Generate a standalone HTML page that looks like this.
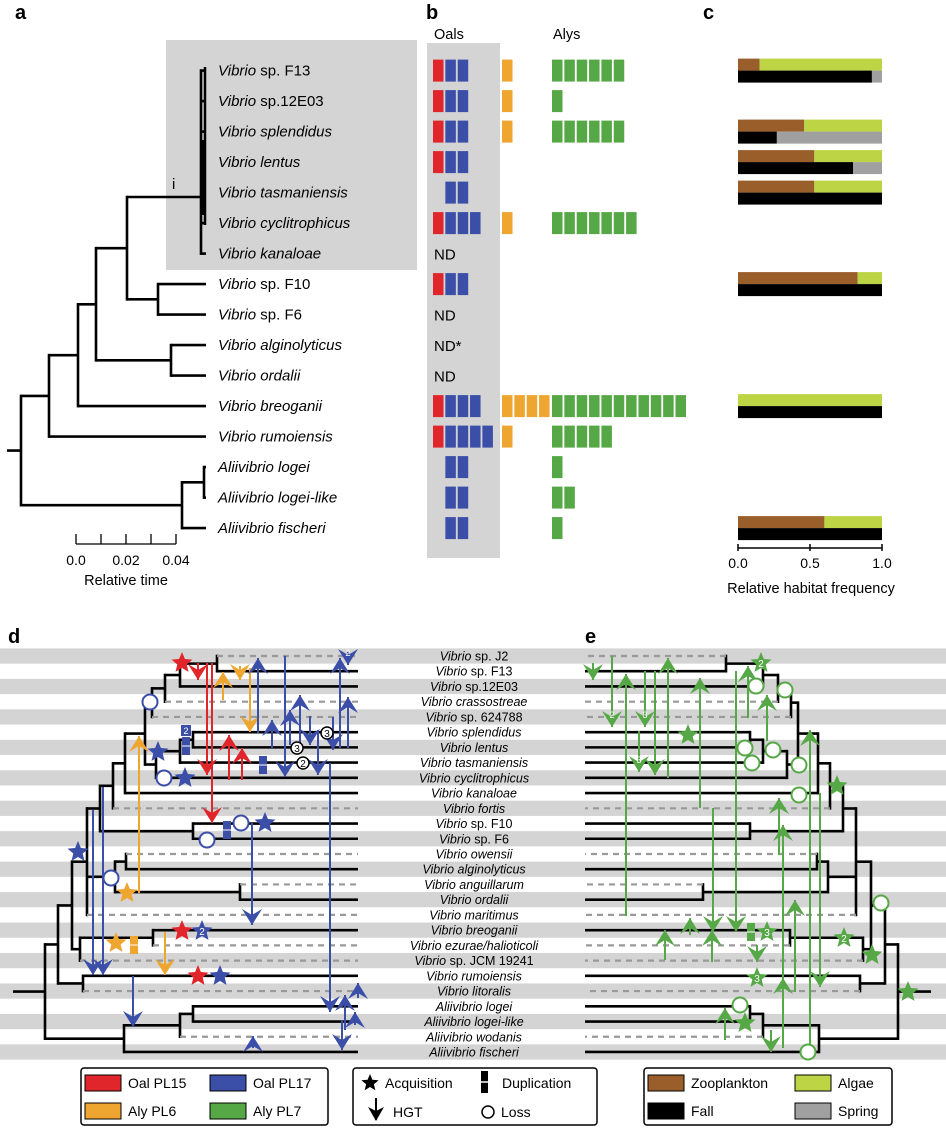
<!DOCTYPE html>
<html><head><meta charset="utf-8">
<style>
html,body{margin:0;padding:0;background:#fff;}
svg{display:block;font-family:"Liberation Sans",sans-serif;}
</style></head>
<body>
<svg id="fig" width="946" height="1136" viewBox="0 0 946 1136" xmlns="http://www.w3.org/2000/svg"></svg>
<script>
// ---------- Panel a/b/c data ----------
const speciesA = ["Vibrio sp. F13","Vibrio sp.12E03","Vibrio splendidus","Vibrio lentus","Vibrio tasmaniensis","Vibrio cyclitrophicus","Vibrio kanaloae","Vibrio sp. F10","Vibrio sp. F6","Vibrio alginolyticus","Vibrio ordalii","Vibrio breoganii","Vibrio rumoiensis","Aliivibrio logei","Aliivibrio logei-like","Aliivibrio fischeri"];
const oalRed    = [1,1,1,1,0,1,0,1,0,0,0,1,1,0,0,0];
const oalBlue   = [2,2,2,2,2,3,0,2,0,0,0,3,4,2,2,2];
const alyOrange = [1,1,1,0,0,1,0,0,0,0,0,4,1,0,0,0];
const alyGreen  = [6,1,6,0,0,7,0,0,0,0,0,11,5,1,2,1];
const ndText    = ["","","","","","","ND","","ND","ND*","ND","","","","",""];
const zooFrac   = [0.15,null,0.46,0.53,0.53,null,null,0.83,null,null,null,0,null,null,null,0.6];
const fallFrac  = [0.93,null,0.27,0.80,1,null,null,1,null,null,null,1,null,null,null,1];
const habTicks  = [0,0.5,1];
const habTickLabels = ["0.0","0.5","1.0"];
const timeTicks = [0,0.01,0.02,0.03,0.04];
const timeTickLabels = ["0.0","","0.02","","0.04"];
// ---------- Panel d/e ----------
const speciesD = ["Vibrio sp. J2","Vibrio sp. F13","Vibrio sp.12E03","Vibrio crassostreae","Vibrio sp. 624788","Vibrio splendidus","Vibrio lentus","Vibrio tasmaniensis","Vibrio cyclitrophicus","Vibrio kanaloae","Vibrio fortis","Vibrio sp. F10","Vibrio sp. F6","Vibrio owensii","Vibrio alginolyticus","Vibrio anguillarum","Vibrio ordalii","Vibrio maritimus","Vibrio breoganii","Vibrio ezurae/halioticoli","Vibrio sp. JCM 19241","Vibrio rumoiensis","Vibrio litoralis","Aliivibrio logei","Aliivibrio logei-like","Aliivibrio wodanis","Aliivibrio fischeri"];
const dashedD = [0,3,4,10,13,15,17,19,20,22,25];

const C = {red:"#e0262b",blue:"#3b4ea8",orange:"#eea631",green:"#56a846",brown:"#9a5e2b",lime:"#bdd445",spring:"#a0a0a0",bg:"#d4d4d4"};
const NS="http://www.w3.org/2000/svg";
const svg=document.getElementById('fig');
function el(tag,attrs,parent){const e=document.createElementNS(NS,tag);for(const k in attrs)e.setAttribute(k,attrs[k]);(parent||svg).appendChild(e);return e;}
function grp(name){const g=el('g',{});return g;}
function speciesText(s,x,y,size,anchor,parent,name){
  const t=el('text',{x:x,y:y,'font-size':size,'text-anchor':anchor||'start',fill:'#000'},parent);
  
  
  const parts=s.split(' ');
  const genus=parts[0];const rest=parts.slice(1).join(' ');
  const a=el('tspan',{'font-style':'italic'},t);a.textContent=genus;
  const b=el('tspan',{'font-style':rest.startsWith('sp.')?'normal':'italic'},t);b.textContent=' '+rest;
  return t;
}

// ---------- panel labels ----------
[["a",15,19],["b",426,19],["c",703,19],["d",8,643],["e",585,643]].forEach(p=>{
  const t=el('text',{x:p[1],y:p[2],'font-size':20,'font-weight':'bold'});t.textContent=p[0];
  
  
});

// ---------- Panel a ----------
const rowA=i=>70.6+30.5*i;
const gA=grp('panel-a-tree');
const box=el('rect',{x:166,y:40,width:251,height:230,fill:C.bg},gA);


const treeA={x:21,c:[{x:49,c:[{x:78,c:[{x:96,c:[{x:127,c:[{x:201,y:197,c:[0,1,2,3,4,5,6],thin:1},{x:158,c:[7,8]}]},{x:171,c:[9,10]}]},11]},12]},{x:182,c:[{x:204,c:[13,14]},15]}]};
function layout(n,rowF,tipX){
  if(typeof n==='number') return {y:rowF(n),x:tipX,leaf:n};
  const ch=n.c.map(c=>layout(c,rowF,tipX));
  n._ch=ch; n.y = n.y!==undefined?n.y:(ch[0].y+ch[ch.length-1].y)/2;
  return n;
}
function drawTree(n,parent,g,opts){
  if(n.leaf!==undefined){
    const dashed=opts.dashed&&opts.dashed.includes(n.leaf);
    el('line',{x1:parent.x,y1:n.y,x2:n.x,y2:n.y,stroke:dashed?'#999':'#000','stroke-width':dashed?2.2:2.6,'stroke-dasharray':dashed?'6,5':'none'},g);
    return;
  }
  el('line',{x1:parent?parent.x:opts.rootX,y1:n.y,x2:n.x,y2:n.y,stroke:'#000','stroke-width':2.6},g);
  el('line',{x1:n.x,y1:n._ch[0].y,x2:n.x,y2:n._ch[n._ch.length-1].y,stroke:'#000','stroke-width':2.6,'stroke-linecap':'square'},g);
  n._ch.forEach(c=>drawTree(c,n,g,opts));
}
layout(treeA,rowA,206);
drawTree(treeA,null,gA,{rootX:7});
el('line',{x1:205,y1:67,x2:205,y2:225,stroke:'#000','stroke-width':2.5},gA);
el('line',{x1:203,y1:140,x2:203,y2:215,stroke:'#000','stroke-width':3},gA);
const iLab=el('text',{x:172,y:189,'font-size':15},gA);iLab.textContent='i';
speciesA.forEach((s,i)=>speciesText(s,218,rowA(i)+5,15,'start',gA,'species-label-a'));
// time scale
const tx=v=>76+v*2500;
const gS=grp('time-scale');
el('line',{x1:tx(0),y1:544,x2:tx(0.04),y2:544,stroke:'#000','stroke-width':1.3},gS);
timeTicks.forEach((v,i)=>{el('line',{x1:tx(v),y1:534,x2:tx(v),y2:544,stroke:'#000','stroke-width':1.3},gS);
  if(timeTickLabels[i]){const t=el('text',{x:tx(v),y:565,'font-size':14,'text-anchor':'middle'},gS);t.textContent=timeTickLabels[i];}});
const rt=el('text',{x:126,y:585,'font-size':14.5,'text-anchor':'middle'},gS);rt.textContent='Relative time';



// ---------- Panel b ----------
const gB=grp('panel-b-gene-counts');
const boxB=el('rect',{x:427,y:43,width:73,height:515,fill:C.bg},gB);
const o1=el('text',{x:434,y:39,'font-size':14.5},gB);o1.textContent='Oals';
const o2=el('text',{x:553,y:39,'font-size':14.5},gB);o2.textContent='Alys';
const slot=(x0,k)=>x0+k*12.35;
speciesA.forEach((s,i)=>{
  const y=rowA(i)-11;
  if(ndText[i]){const t=el('text',{x:434,y:rowA(i)+6,'font-size':15},gB);t.textContent=ndText[i];return;}
  for(let k=0;k<oalRed[i];k++){const r=el('rect',{x:slot(433,k),y:y,width:10.5,height:22,fill:C.red},gB);}
  for(let k=0;k<oalBlue[i];k++){const r=el('rect',{x:slot(433,k+1),y:y,width:10.5,height:22,fill:C.blue},gB);}
  for(let k=0;k<alyOrange[i];k++){const r=el('rect',{x:slot(502,k),y:y,width:10.5,height:22,fill:C.orange},gB);}
  for(let k=0;k<alyGreen[i];k++){const r=el('rect',{x:slot(552,k),y:y,width:10.5,height:22,fill:C.green},gB);}
});

// ---------- Panel c ----------
const gC=grp('panel-c-habitat');
const hx=v=>738+v*144;
speciesA.forEach((s,i)=>{
  if(zooFrac[i]===null)return;
  const y=rowA(i);
  const a=el('rect',{x:hx(0),y:y-12,width:hx(zooFrac[i])-hx(0),height:12,fill:C.brown},gC);
  
  const b=el('rect',{x:hx(zooFrac[i]),y:y-12,width:hx(1)-hx(zooFrac[i]),height:12,fill:C.lime},gC);
  
  const c=el('rect',{x:hx(0),y:y,width:hx(fallFrac[i])-hx(0),height:12,fill:'#000'},gC);
  
  const d=el('rect',{x:hx(fallFrac[i]),y:y,width:hx(1)-hx(fallFrac[i]),height:12,fill:C.spring},gC);
  
});
el('line',{x1:hx(0),y1:548,x2:hx(1),y2:548,stroke:'#000','stroke-width':1.5},gC);
habTicks.forEach((v,i)=>{el('line',{x1:hx(v),y1:544,x2:hx(v),y2:551,stroke:'#000','stroke-width':1.5},gC);
  const t=el('text',{x:hx(v),y:568,'font-size':14,'text-anchor':'middle'},gC);t.textContent=habTickLabels[i];});
const ht=el('text',{x:811,y:593,'font-size':14.5,'text-anchor':'middle'},gC);ht.textContent='Relative habitat frequency';


// ---------- Panels d/e ----------
const rowD=i=>656+15.23*i;
const gBg=grp('stripes');
speciesD.forEach((s,i)=>{ if(i%2===0){const r=el('rect',{x:0,y:rowD(i)-7.6,width:946,height:15.23,fill:C.bg},gBg);}});
const gL=grp('species-labels-d-e');
speciesD.forEach((s,i)=>speciesText(s,474,rowD(i)+4.5,12.5,'middle',gL,'species-label'));

function treeD(){return {x:45,c:[
 {x:58,c:[
   {x:72,c:[
     {x:87,c:[
       {x:100,c:[
         {x:113,c:[
           {x:125,c:[
             {x:145,c:[
               {x:152,c:[{x:165,c:[{x:180,c:[{x:217,c:[0,1]},2]},3]},4]},
               {x:156,c:[{x:180,c:[{x:193,c:[5,6]},7]},8]}
             ]},9]},10]},
         {x:193,c:[11,12]}]},
       {x:115,c:[{x:126,c:[13,14]},{x:240,c:[15,16]}]},
       17]},
     {x:80,c:[{x:153,c:[18,19]},20]}]},
   {x:83,c:[21,22]}]},
 {x:124,c:[{x:180,c:[{x:193,c:[23,24]},25]},26]}
]};}
const gD=grp('panel-d-tree');
const tD=treeD();layout(tD,rowD,358);drawTree(tD,null,gD,{rootX:13,dashed:dashedD});
const gE=grp('panel-e-tree');
function mirror(n){if(typeof n==='number')return n;return {x:943-n.x,c:n.c.map(mirror)};}
const tE=mirror(treeD());layout(tE,rowD,585);drawTree(tE,null,gE,{rootX:931,dashed:dashedD});

// ---------- event glyphs ----------
function starPath(cx,cy,r){let p='';for(let k=0;k<10;k++){const a=-Math.PI/2+k*Math.PI/5;const rr=k%2?r*0.45:r;p+=(k?'L':'M')+(cx+rr*Math.cos(a)).toFixed(1)+','+(cy+rr*Math.sin(a)).toFixed(1);}return p+'Z';}
function star(g,x,y,col,lab){const s=el('path',{d:starPath(x,y,11),fill:col},g);
  if(lab){const t=el('text',{x:x,y:y+4,'font-size':10,fill:'#fff','text-anchor':'middle'},g);t.textContent=lab;}}
function circ(g,x,y,col,lab){const c=el('circle',{cx:x,cy:y,r:lab?6:7.5,fill:'#fff',stroke:col,'stroke-width':lab?1.5:2},g);
  if(lab){c.setAttribute('stroke','#000');const t=el('text',{x:x,y:y+4,'font-size':10,'text-anchor':'middle'},g);t.textContent=lab;}}
function arrow(g,x,y1,y2,col,lab){el('line',{x1:x,y1:y1,x2:x,y2:y2,stroke:col,'stroke-width':2},g);
  const d=y2>y1?1:-1;const h=el('path',{d:`M${x-10},${y2-d*16}L${x},${y2}L${x+10},${y2-d*16}L${x},${y2-d*10}Z`,fill:col},g);
  
  if(lab){const t=el('text',{x:x,y:y2-d*8+(d>0?-1:6),'font-size':9,fill:'#fff','text-anchor':'middle'},g);t.textContent=lab;}}
function dup(g,x,y,col,lab){el('rect',{x:x-4,y:y-9,width:8,height:18,fill:col},g);el('line',{x1:x-4,y1:y,x2:x+4,y2:y,stroke:'#fff','stroke-width':1},g);
  if(lab){el('rect',{x:x-5,y:y-21,width:10,height:11,fill:col},g);const t=el('text',{x:x,y:y-12,'font-size':9,fill:'#fff','text-anchor':'middle'},g);t.textContent=lab;}}
const gEv=grp('panel-d-events');
// red
arrow(gEv,198,663,680,C.red);arrow(gEv,207,663,775,C.red);arrow(gEv,212,663,823,C.red);
arrow(gEv,229,780,735,C.red);arrow(gEv,242,780,748,C.red);
star(gEv,182,663,C.red);star(gEv,182,931,C.red);star(gEv,198,976,C.red);
// orange
arrow(gEv,223,700,672,C.orange);arrow(gEv,240,666,680,C.orange);arrow(gEv,250,668,732,C.orange);
arrow(gEv,139,893,736,C.orange);arrow(gEv,165,932,975,C.orange);
star(gEv,127,893,C.orange);star(gEv,116,943,C.orange);dup(gEv,134,945,C.orange);
// blue
arrow(gEv,258,733,658,C.blue);arrow(gEv,285,656,777,C.blue);arrow(gEv,300,745,695,C.blue);
arrow(gEv,290,745,710,C.blue);arrow(gEv,272,748,720,C.blue);arrow(gEv,310,716,745,C.blue);
arrow(gEv,318,730,775,C.blue);arrow(gEv,333,717,750,C.blue);arrow(gEv,340,748,658,C.blue);
arrow(gEv,348,748,697,C.blue);arrow(gEv,330,763,1012,C.blue);arrow(gEv,252,823,925,C.blue);
arrow(gEv,93,810,975,C.blue);arrow(gEv,103,787,975,C.blue);arrow(gEv,133,976,1027,C.blue);
arrow(gEv,253,1048,1036,C.blue);arrow(gEv,358,998,983,C.blue);arrow(gEv,345,1030,995,C.blue);
arrow(gEv,342,1020,1050,C.blue);arrow(gEv,355,1025,1012,C.blue);arrow(gEv,348,652,665,C.blue,'2');
circ(gEv,327,733,C.blue,'3');circ(gEv,297,748,C.blue,'3');circ(gEv,303,763,C.blue,'2');
dup(gEv,186,746,C.blue,'2');dup(gEv,263,765,C.blue);dup(gEv,227,830,C.blue);
star(gEv,158,752,C.blue);circ(gEv,164,778,C.blue);star(gEv,185,778,C.blue);
circ(gEv,150,702,C.blue);circ(gEv,241,823,C.blue);star(gEv,265,823,C.blue);circ(gEv,207,840,C.blue);
star(gEv,78,852,C.blue);circ(gEv,111,878,C.blue);star(gEv,202,931,C.blue,'2');star(gEv,220,976,C.blue);
// green (panel e)
const gEe=grp('panel-e-events');
arrow(gEe,593,663,680,C.green);arrow(gEe,612,656,727,C.green,'2');arrow(gEe,626,916,674,C.green);
arrow(gEe,645,671,727,C.green,'3');arrow(gEe,639,731,772,C.green,'3');arrow(gEe,655,671,775,C.green);
arrow(gEe,668,778,658,C.green);arrow(gEe,700,808,678,C.green);arrow(gEe,713,808,932,C.green);
arrow(gEe,736,671,932,C.green);arrow(gEe,748,718,666,C.green);
arrow(gEe,665,960,930,C.green);arrow(gEe,690,935,918,C.green);arrow(gEe,712,962,930,C.green);
arrow(gEe,757,945,962,C.green);arrow(gEe,783,1048,825,C.green);arrow(gEe,779,855,798,C.green);
arrow(gEe,810,1050,730,C.green);arrow(gEe,820,793,987,C.green);arrow(gEe,771,1030,1052,C.green);
arrow(gEe,783,1000,978,C.green);arrow(gEe,795,992,900,C.green);arrow(gEe,725,1040,1008,C.green);
arrow(gEe,767,741,695,C.green);
star(gEe,761,663,C.green,'2');star(gEe,688,735,C.green);star(gEe,837,786,C.green);
star(gEe,844,938,C.green,'2');star(gEe,872,955,C.green);star(gEe,908,992,C.green);
star(gEe,745,1023,C.green);star(gEe,767,932,C.green,'3');star(gEe,757,978,C.green,'3');
dup(gEe,751,932,C.green);
[[756,686],[785,690],[745,748],[752,763],[773,750],[799,765],[799,795],[881,903],[740,1005],[808,1052]].forEach(p=>circ(gEe,p[0],p[1],C.green));

// ---------- legends ----------
function legBox(x,w,name){const g=grp(name);el('rect',{x:x,y:1068,width:w,height:57,rx:3,fill:'#fff',stroke:'#000','stroke-width':1.5},g);return g;}
function sw(g,x,y,col,label,name){const r=el('rect',{x:x,y:y-7,width:36,height:16,fill:col,stroke:'#000','stroke-width':1},g);
  
  const t=el('text',{x:x+43,y:y+6,'font-size':14},g);t.textContent=label;}
const L1=legBox(81,247,'gene-legend');
sw(L1,85,1082,C.red,'Oal PL15','legend-oal-pl15');sw(L1,210,1082,C.blue,'Oal PL17','legend-oal-pl17');
sw(L1,85,1110,C.orange,'Aly PL6','legend-aly-pl6');sw(L1,210,1110,C.green,'Aly PL7','legend-aly-pl7');
const L2=legBox(353,244,'event-legend');
el('path',{d:starPath(370,1083,9),fill:'#000'},L2);
let t=el('text',{x:385,y:1088,'font-size':14},L2);t.textContent='Acquisition';
el('rect',{x:481,y:1071,width:7,height:22,fill:'#000'},L2);el('line',{x1:481,y1:1082,x2:488,y2:1082,stroke:'#fff','stroke-width':1.5},L2);
t=el('text',{x:502,y:1088,'font-size':14},L2);t.textContent='Duplication';
el('line',{x1:376,y1:1098,x2:376,y2:1120,stroke:'#000','stroke-width':2},L2);
el('path',{d:'M368,1107L376,1121L384,1107L376,1111Z',fill:'#000'},L2);
t=el('text',{x:393,y:1117,'font-size':14},L2);t.textContent='HGT';
el('circle',{cx:488,cy:1112,r:6,fill:'#fff',stroke:'#000','stroke-width':1.5},L2);
t=el('text',{x:501,y:1117,'font-size':14},L2);t.textContent='Loss';
const L3=legBox(644,248,'habitat-legend');
sw(L3,648,1082,C.brown,'Zooplankton','legend-zooplankton');sw(L3,795,1082,C.lime,'Algae','legend-algae');
sw(L3,648,1110,'#000','Fall','legend-fall');sw(L3,795,1110,C.spring,'Spring','legend-spring');
</script>
</body></html>
